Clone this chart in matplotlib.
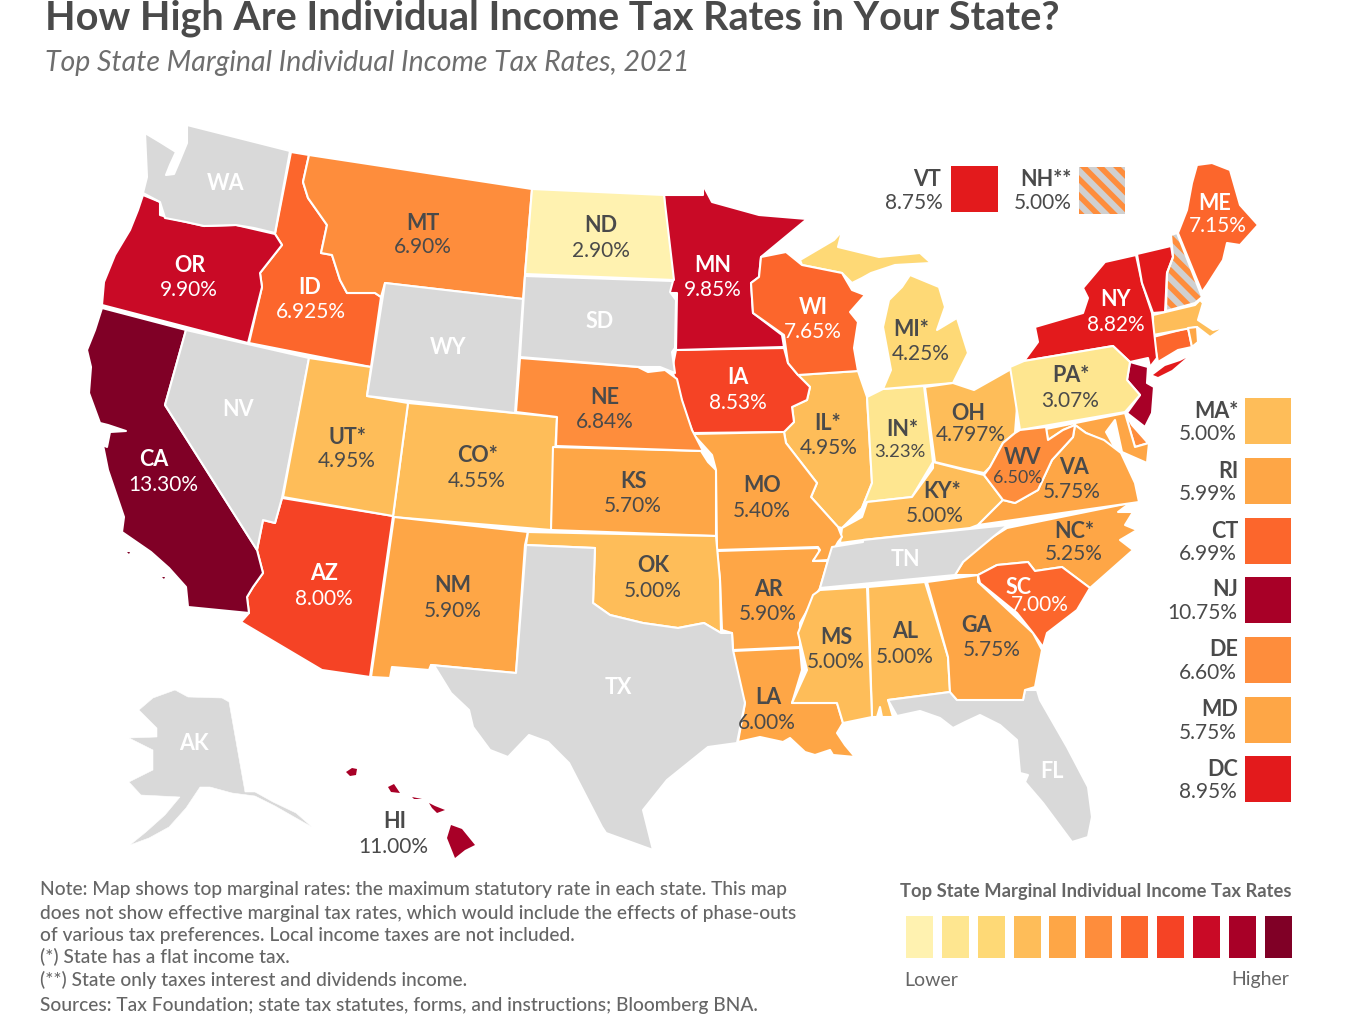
import matplotlib
matplotlib.use("Agg")
import matplotlib.pyplot as plt
from matplotlib.colors import BoundaryNorm, ListedColormap
from matplotlib.patches import Polygon, Rectangle

plt.rcParams['font.family'] = ['Lato', 'DejaVu Sans']
plt.rcParams['hatch.linewidth'] = 4.0

# ---------- data ----------
states = ['AL','AK','AZ','AR','CA','CO','CT','DE','DC','FL','GA','HI','ID','IL','IN','IA','KS','KY','LA','ME','MD','MA','MI','MN','MS','MO','MT','NE','NV','NH','NJ','NM','NY','NC','ND','OH','OK','OR','PA','RI','SC','SD','TN','TX','UT','VT','VA','WA','WV','WI','WY']
rates = [5.00,None,8.00,5.90,13.30,4.55,6.99,6.60,8.95,None,5.75,11.00,6.925,4.95,3.23,8.53,5.70,5.00,6.00,7.15,5.75,5.00,4.25,9.85,5.00,5.40,6.90,6.84,None,5.00,10.75,5.90,8.82,5.25,2.90,4.797,5.00,9.90,3.07,5.99,7.00,None,None,None,4.95,8.75,5.75,None,6.50,7.65,None]
rate_text = {'ID':'6.925%','OH':'4.797%'}
flat_tax = ['UT','CO','IL','IN','MI','PA','KY','NC','MA']
side_states = ['MA','RI','CT','NJ','DE','MD','DC']
scale_labels = ['Lower','Higher']

palette = ['#FFF2B0','#FEE690','#FED976','#FEBD59','#FEA646','#FE8D3C','#FC662C','#F54325','#E31A1C','#C90A26','#A80027','#800026']
bounds = [0,3,4,4.5,5.01,6.01,6.91,8.0,8.7,9.0,10,12,14]
legend_steps = [0,1,2,3,4,5,6,7,9,10,11]
cmap = ListedColormap(palette)
norm = BoundaryNorm(bounds, cmap.N)
rate_of = dict(zip(states, rates))
NO_TAX = '#D9D9D9'
DARK = '#4A4A4A'
GREY = '#666666'

# ---------- outlines of the states, in map units ----------
shapes = {
'WA':[[(187,125),(290,151),(275,233),(254,228),(236,225),(204,226),(186,222),(165,218),(160,202),(143,193),(147,177),(145,133),(160,142),(176,152),(170,165),(166,175),(174,174),(180,160),(187,143)]],
'OR':[[(143,195),(160,202),(160,215),(173,219),(204,226),(236,225),(275,234),(282,245),(260,273),(262,287),(248,343),(102,305),(104,282),(115,255),(130,230),(138,210)]],
'CA':[[(102,308),(186,330),(165,405),(257,550),(263,573),(253,587),(247,597),(249,613),(188,607),(186,587),(169,568),(151,552),(122,532),(124,517),(108,470),(103,445),(107,447),(110,432),(126,431),(108,425),(100,423),(89,393),(91,367),(87,350),(95,330)]],
'NV':[[(186,330),(309,358),(282,498),(275,523),(263,520),(257,550),(165,405)]],
'ID':[[(291,152),(309,155),(303,182),(308,198),(327,225),(321,253),(332,255),(340,280),(347,293),(375,293),(381,297),(371,367),(249,343),(262,287),(260,273),(282,245),(275,234)]],
'MT':[[(309,155),(532,189),(523,299),(385,283),(381,297),(375,293),(347,293),(340,280),(332,255),(321,253),(327,225),(308,198),(303,182)]],
'ND':[[(532,189),(664,195),(674,280),(525,274)]],
'SD':[[(525,276),(673,281),(670,292),(676,300),(675,348),(672,352),(675,373),(660,367),(640,367),(520,357)]],
'WY':[[(385,283),(523,299),(515,413),(367,396)]],
'NE':[[(520,358),(638,367),(648,372),(665,370),(677,379),(682,400),(692,430),(703,451),(556,446),(557,417),(516,412)]],
'KS':[[(553,447),(701,451),(708,462),(716,470),(716,536),(551,530)]],
'CO':[[(408,403),(557,417),(551,530),(393,517)]],
'UT':[[(309,358),(371,367),(367,396),(408,403),(393,516),(283,497)]],
'AZ':[[(282,498),(393,516),(370,677),(322,670),(241,622),(249,613),(247,597),(253,587),(263,573),(257,550),(263,520),(275,523)]],
'NM':[[(394,517),(528,532),(525,545),(516,673),(431,665),(429,670),(392,667),(390,678),(371,677)]],
'OK':[[(528,532),(716,536),(720,580),(721,633),(704,623),(678,628),(643,623),(610,615),(593,603),(595,548),(526,545)]],
'TX':[[(526,545),(595,548),(593,603),(610,615),(643,623),(678,628),(704,623),(721,633),(732,633),(733,650),(745,703),(737,743),(708,747),(667,780),(643,810),(653,850),(606,833),(602,827),(569,763),(548,742),(529,735),(508,757),(490,750),(473,727),(469,710),(451,693),(435,667),(431,665),(516,673)]],
'AK':[[(229,702),(245,792),(255,792),(273,802),(296,813),(312,827),(303,822),(275,806),(255,796),(232,793),(210,787),(200,787),(186,808),(169,827),(149,838),(130,845),(146,832),(165,815),(180,797),(141,795),(129,782),(153,770),(153,750),(129,738),(157,737),(157,728),(139,710),(153,698),(175,690),(188,697),(222,698)]],
'HI':[],
'MN':[[(664,195),(703,195),(703,185),(712,202),(759,215),(807,219),(761,257),(759,277),(751,283),(753,313),(782,335),(784,347),(676,350),(677,293),(670,293)]],
'IA':[[(676,350),(784,348),(788,363),(798,375),(810,387),(807,400),(792,407),(794,422),(784,432),(693,433),(687,417),(672,370)]],
'MO':[[(693,434),(784,432),(786,443),(817,483),(811,497),(838,527),(842,537),(838,542),(828,560),(813,561),(820,550),(818,547),(717,550),(716,470),(712,455)]],
'AR':[[(717,551),(818,548),(820,552),(813,561),(828,561),(820,588),(800,623),(800,647),(733,650),(732,633),(722,630),(720,580)]],
'LA':[[(733,651),(800,648),(802,670),(792,703),(837,703),(843,723),(837,733),(845,745),(855,757),(833,755),(830,750),(815,755),(805,752),(790,738),(783,742),(760,737),(738,742),(745,703),(733,670)]],
'MS':[[(820,590),(867,587),(872,717),(843,723),(837,703),(792,703),(807,670),(798,633),(813,595)]],
'AL':[[(868,587),(925,582),(948,657),(950,692),(888,700),(893,717),(882,717),(880,707),(877,717),(872,717)]],
'GA':[[(927,582),(978,575),(978,582),(1033,633),(1042,650),(1035,687),(1025,690),(1023,700),(957,700),(950,692),(948,657)]],
'FL':[[(888,700),(950,692),(957,700),(1023,700),(1025,690),(1037,690),(1040,700),(1067,747),(1088,787),(1092,817),(1088,837),(1072,842),(1043,803),(1025,782),(1028,775),(1020,773),(1017,740),(1000,725),(980,715),(965,722),(953,728),(940,718),(920,711),(897,716)]],
'SC':[[(978,575),(997,565),(1028,562),(1035,571),(1062,567),(1090,588),(1077,610),(1047,633),(1043,647),(1033,633),(1017,613),(980,583)]],
'NC':[[(955,575),(963,562),(983,543),(1007,528),(1130,503),(1118,512),(1133,512),(1125,525),(1137,530),(1120,540),(1133,550),(1107,573),(1090,588),(1062,567),(1035,571),(1028,562),(997,565),(978,575)]],
'TN':[[(832,547),(863,542),(863,540),(1008,525),(993,537),(963,562),(955,575),(820,588),(828,560)]],
'KY':[[(840,543),(863,540),(970,528),(978,525),(1003,500),(984,475),(933,462),(933,468),(912,497),(867,502),(862,517),(842,528)]],
'IL':[[(798,375),(858,371),(867,397),(872,483),(862,508),(842,528),(838,527),(811,497),(817,483),(786,443),(784,432),(794,422),(792,407),(807,400),(810,387)]],
'IN':[[(867,397),(883,389),(924,386),(933,462),(912,497),(867,502),(862,508),(872,483)]],
'OH':[[(925,387),(953,383),(974,390),(1013,368),(1017,407),(1015,433),(1003,443),(990,467),(984,473),(964,469),(935,462)]],
'MI':[[(910,275),(939,287),(945,307),(937,330),(957,318),(968,353),(953,383),(883,389),(891,370),(883,327),(889,300),(902,287)],
      [(800,260),(834,240),(842,231),(838,247),(879,257),(920,253),(931,263),(895,265),(871,273),(862,278),(852,283),(842,273),(802,265)]],
'WI':[[(761,257),(786,252),(802,265),(842,273),(852,290),(865,295),(850,312),(858,322),(854,348),(858,371),(798,375),(788,363),(784,335),(753,313),(751,283),(759,277)]],
'PA':[[(1024,361),(1113,346),(1130,362),(1127,380),(1140,395),(1125,412),(1020,430),(1010,367)]],
'NY':[[(1024,361),(1038,342),(1035,327),(1083,313),(1088,298),(1083,288),(1105,262),(1136,255),(1142,283),(1152,313),(1157,358),(1150,367),(1148,358),(1130,362),(1113,346)]],
'VT':[[(1137,254),(1171,246),(1173,257),(1167,273),(1165,312),(1153,313),(1142,283)]],
'NH':[[(1171,235),(1177,233),(1202,297),(1195,303),(1166,311),(1167,273),(1173,257)]],
'ME':[[(1197,165),(1212,163),(1230,170),(1240,205),(1258,225),(1240,245),(1227,243),(1223,260),(1207,285),(1202,292),(1178,233),(1187,210),(1192,183)]],
'MA':[[(1153,315),(1195,305),(1200,300),(1203,303),(1198,320),(1213,330),(1225,327),(1210,337),(1197,327),(1153,335)]],
'RI':[[(1188,328),(1197,327),(1198,342),(1192,347)]],
'CT':[[(1153,337),(1188,328),(1192,347),(1178,350),(1158,362)]],
'NJ':[[(1130,362),(1148,367),(1147,383),(1154,387),(1152,413),(1145,427),(1127,413),(1140,395),(1127,380)]],
'DE':[[(1125,413),(1132,425),(1148,443),(1135,447)]],
'MD':[[(1046,429),(1125,413),(1135,447),(1149,443),(1147,463),(1131,456),(1122,452),(1115,420),(1106,432),(1116,450),(1102,440),(1086,433),(1075,425),(1063,430),(1048,440)]],
'DC':[],
'VA':[[(978,525),(1139,502),(1135,483),(1121,453),(1104,440),(1086,433),(1075,425),(1073,437),(1052,460),(1038,490),(1015,503),(1003,500)]],
'WV':[[(1020,430),(1046,427),(1048,440),(1063,430),(1075,425),(1073,437),(1052,460),(1038,490),(1015,503),(1003,500),(984,475),(990,467),(1003,443),(1015,433)]],
}
# small pieces that take no white outline
islands = {
'HI':[[(451,825),(462,829),(475,845),(465,850),(455,858),(447,838)],[(429,803),(435,806),(445,810),(437,813),(432,808)],[(388,787),(394,784),(400,793),(391,792)],[(346,772),(352,768),(357,769),(356,775),(350,776)],[(412,797),(422,799),(414,799)]],
'NY':[[(1153,375),(1165,366),(1180,361),(1186,358),(1172,370),(1158,377)]],
'CA':[[(127,552),(130,552),(129,554)],[(162,577),(165,577),(164,579)]],
}

# ---------- label positions, in map units ----------
labels = {
'WA':(226,184),'OR':(190,265,189,290),'ID':(310,287,311,312),'MT':(423,223,423,247),'ND':(601,226,601,251),
'MN':(713,265,713,290),'WY':(448,348),'SD':(600,322),'NV':(238,409),'CA':(154,460,163,485),'UT':(347,437,347,461),
'CO':(477,456,477,481),'NE':(605,397,605,422),'KS':(633,481,633,506),'IA':(738,378,738,403),'WI':(813,308,813,332),
'MI':(911,330,921,354),'IL':(828,423,829,448),'IN':(902,429,900,452),'OH':(968,414,971,435),'PA':(1071,376,1070,401),
'NY':(1116,300,1116,325),'ME':(1215,203,1218,226),'KY':(942,491,935,516),'WV':(1023,458,1018,478),'VA':(1074,468,1072,492),
'MO':(762,486,762,511),'AZ':(324,574,324,599),'NM':(453,586,453,611),'OK':(653,566,653,591),'AR':(768,589,768,614),
'LA':(768,698,767,723),'MS':(836,637,836,662),'AL':(905,632,905,657),'GA':(977,625,992,650),'SC':(1019,587,1040,605),
'NC':(1074,532,1074,554),'TN':(905,560),'TX':(618,687),'FL':(1052,772),'AK':(194,744),'HI':(395,822,393,847),
}
white_text = ['OR','ID','MN','CA','IA','WI','NY','ME','AZ','SC']
small_rate = {'IN':13.2,'WV':12.8}

def tag(code):
    return code + ('*' if code in flat_tax else '') + ('**' if code == 'NH' else '')
def pct(code):
    return rate_text.get(code, f'{rate_of[code]:.2f}%')
def col(code):
    r = rate_of[code]
    return NO_TAX if r is None else cmap(norm(r))

fig = plt.figure(figsize=(13.55, 10.16), dpi=100, facecolor='white')
ax = fig.add_axes([0, 0, 1, 1])
ax.set_xlim(0, 1355); ax.set_ylim(1016, 0); ax.axis('off')

HATCH_BG, HATCH_FG = '#D0D0D0', '#FE8D3C'
EDGE = 1.5

for code in states:
    for ring in shapes[code]:
        if code == 'NH':
            ax.add_patch(Polygon(ring, closed=True, facecolor=HATCH_BG, edgecolor=HATCH_FG, hatch='\\\\', lw=0, zorder=2))
            ax.add_patch(Polygon(ring, closed=True, facecolor='none', edgecolor='white', lw=EDGE, zorder=3))
        else:
            ax.add_patch(Polygon(ring, closed=True, facecolor=col(code), edgecolor='white', lw=0.4 if code == 'AK' else EDGE, joinstyle='round', zorder=2))
    for ring in islands.get(code, []):
        ax.add_patch(Polygon(ring, closed=True, facecolor=col(code), edgecolor='none', zorder=2))

for code, p in labels.items():
    c = 'white' if code in white_text or rate_of[code] is None else DARK
    ax.text(p[0], p[1], tag(code), ha='center', va='center', fontsize=15.5, fontweight='bold', color=c, zorder=5)
    if len(p) == 4:
        ax.text(p[2], p[3], pct(code), ha='center', va='center', fontsize=small_rate.get(code, 15), color=c, zorder=5)

# VT and NH keys
ax.add_patch(Rectangle((951, 166), 47, 46, facecolor=col('VT'), edgecolor='none'))
ax.text(941, 179, 'VT', ha='right', va='center', fontsize=15.5, fontweight='bold', color=DARK)
ax.text(943, 203, pct('VT'), ha='right', va='center', fontsize=15, color=DARK)
ax.add_patch(Rectangle((1079, 167), 46, 47, facecolor=HATCH_BG, edgecolor=HATCH_FG, hatch='\\\\', lw=0))
ax.text(1071, 180, tag('NH'), ha='right', va='center', fontsize=15.5, fontweight='bold', color=DARK)
ax.text(1072, 203, pct('NH'), ha='right', va='center', fontsize=15, color=DARK)

# side key
side_tops = [398, 458, 518, 577, 637, 697, 756]
for code, top in zip(side_states, side_tops):
    ax.add_patch(Rectangle((1245, top), 46, 46, facecolor=col(code), edgecolor='none'))
    ax.text(1238, top + 13, tag(code), ha='right', va='center', fontsize=15.5, fontweight='bold', color=DARK)
    ax.text(1237, top + 36, pct(code), ha='right', va='center', fontsize=15, color=DARK)

# colour scale
for i, step in enumerate(legend_steps):
    ax.add_patch(Rectangle((906 + i * 35.85, 916), 27, 42, facecolor=palette[step], edgecolor='none'))
ax.text(1292, 892, 'Top State Marginal Individual Income Tax Rates', ha='right', va='center', fontsize=13.2, fontweight='bold', color=GREY)
ax.text(904, 980, scale_labels[0], ha='left', va='center', fontsize=14, color=GREY)
ax.text(1289, 980, scale_labels[1], ha='right', va='center', fontsize=14, color=GREY)

# heading
ax.text(45, 29.5, 'How High Are Individual Income Tax Rates in Your State?', ha='left', va='baseline', fontsize=28.55, fontweight='bold', color=DARK)
ax.text(45, 63, 'Top State Marginal Individual Income Tax Rates, 2021', ha='left', va='center', fontsize=20.5, style='italic', color='#6E6E6E')

# notes
note_lines = ['Note: Map shows top marginal rates: the maximum statutory rate in each state. This map',
              'does not show effective marginal tax rates, which would include the effects of phase-outs',
              'of various tax preferences. Local income taxes are not included.',
              '(*) State has a flat income tax.',
              '(**) State only taxes interest and dividends income.',
              'Sources: Tax Foundation; state tax statutes, forms, and instructions; Bloomberg BNA.']
for line, y in zip(note_lines, [890, 913, 935, 957, 980, 1005]):
    ax.text(40, y, line, ha='left', va='center', fontsize=13.8, color=GREY, fontweight='medium')

fig.savefig('out.png', dpi=100, facecolor='white')
